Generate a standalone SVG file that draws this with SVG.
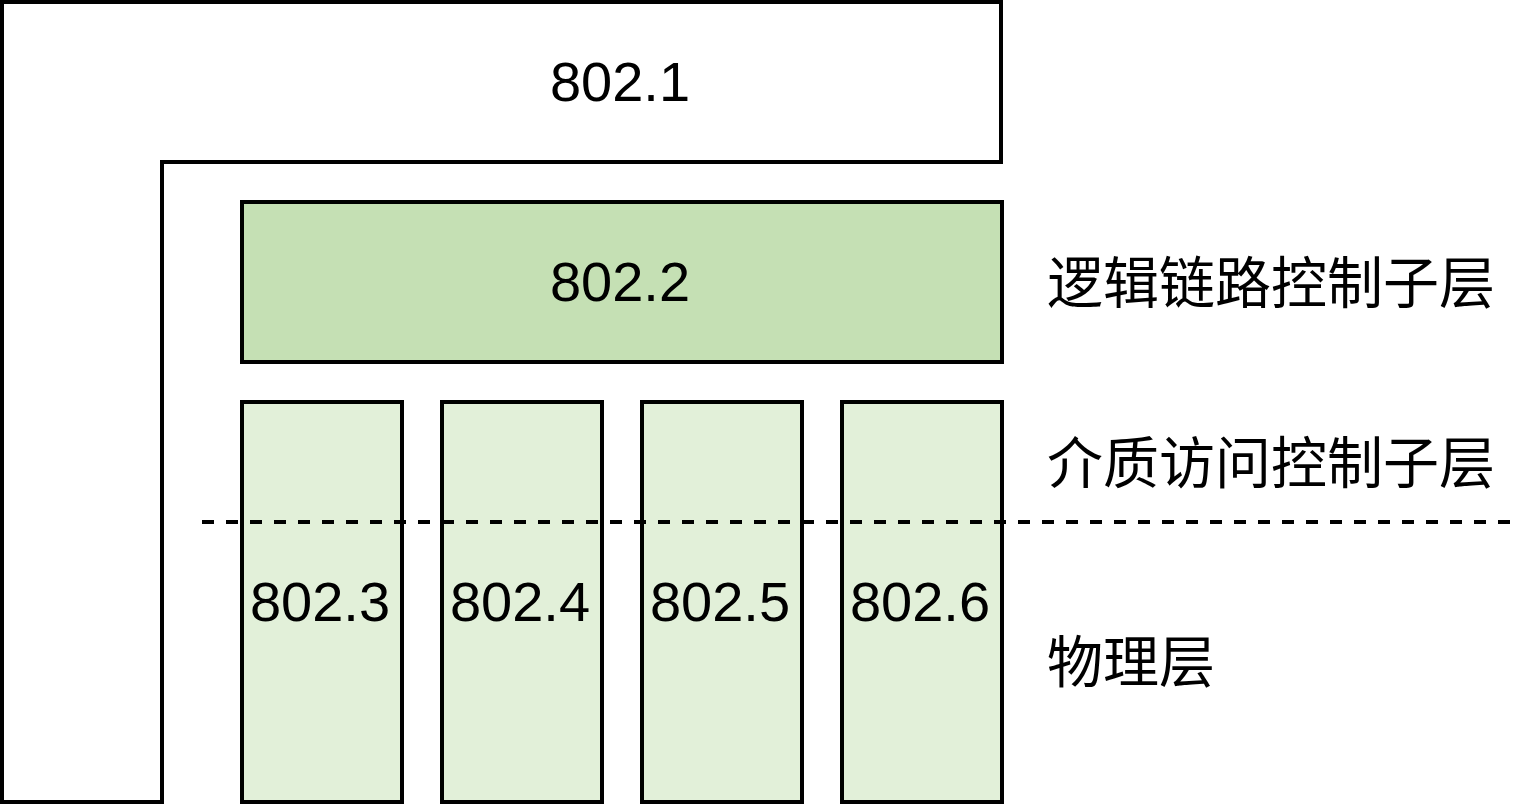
<svg xmlns="http://www.w3.org/2000/svg" width="1528" height="808" viewBox="0 0 1528 808">
<style>
.box{stroke:#000;stroke-width:4}
.lbl{font-family:"Liberation Sans",Arial,sans-serif;font-size:56px;fill:#000;text-anchor:middle}
.cn{font-family:"Noto Sans CJK SC","Microsoft YaHei",sans-serif;font-size:56px;fill:#000;dominant-baseline:central}
.dark{fill:#c5e0b4}
.light{fill:#e2f0d9}
</style>
<rect width="1528" height="808" fill="#fff"/>
<g id="n8021">
<polygon class="box" fill="#fff" points="2,2 1001,2 1001,162 162,162 162,802 2,802"/>
<text class="lbl" x="620" y="101">802.1</text>
</g>
<g id="n8022">
<rect class="box dark" x="242" y="202" width="760" height="160"/>
<text class="lbl" x="620" y="301">802.2</text>
</g>
<g id="n8023">
<rect class="box light" x="242" y="402" width="160" height="400"/>
<text class="lbl" x="320" y="621">802.3</text>
</g>
<g id="n8024">
<rect class="box light" x="442" y="402" width="160" height="400"/>
<text class="lbl" x="520" y="621">802.4</text>
</g>
<g id="n8025">
<rect class="box light" x="642" y="402" width="160" height="400"/>
<text class="lbl" x="720" y="621">802.5</text>
</g>
<g id="n8026">
<rect class="box light" x="842" y="402" width="160" height="400"/>
<text class="lbl" x="920" y="621">802.6</text>
</g>
<g id="connectors">
<line x1="202" y1="522" x2="1514" y2="522" stroke="#000" stroke-width="4" stroke-dasharray="12 12"/>
</g>
<g id="labels">
<text class="cn" x="1047" y="278">逻辑链路控制子层</text>
<text class="cn" x="1047" y="458">介质访问控制子层</text>
<text class="cn" x="1047" y="657">物理层</text>
</g>
</svg>
